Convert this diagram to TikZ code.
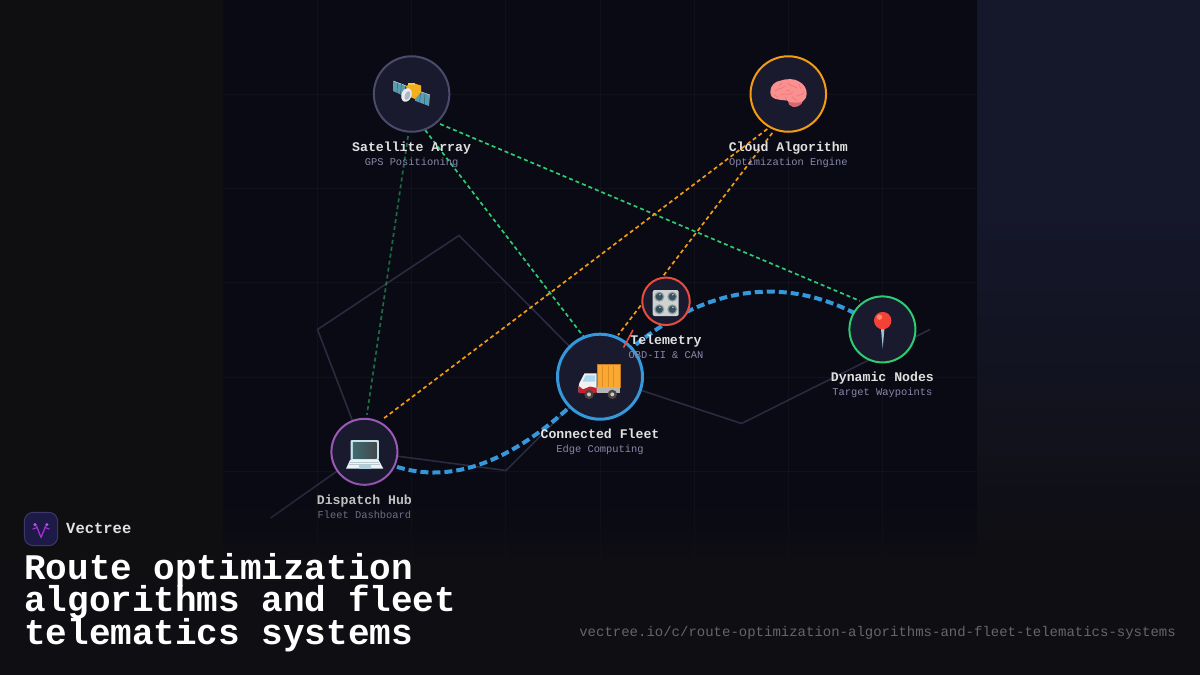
\documentclass[tikz,border=0pt]{standalone}
\usepackage{fontspec}
\setmainfont{Liberation Mono}
\usetikzlibrary{calc}
\newcommand{\tightlines}{\lineskiplimit=-100pt\relax}
\definecolor{bgside}{HTML}{0F0F12}
\definecolor{bgmid}{HTML}{0A0A15}
\definecolor{bgright}{HTML}{15172B}
\definecolor{bgbot}{HTML}{0F0F13}
\definecolor{nodefill}{HTML}{1A1A2E}
\definecolor{routecol}{HTML}{2A2A40}
\definecolor{cblue}{HTML}{3498DB}
\definecolor{corange}{HTML}{F39C12}
\definecolor{cgreen}{HTML}{2ECC71}
\definecolor{cred}{HTML}{E74C3C}
\definecolor{cpurple}{HTML}{9B59B6}
\definecolor{cslate}{HTML}{4A4A6A}
\definecolor{labelcol}{HTML}{E0E0E0}
\definecolor{subcol}{HTML}{8888AA}
\newcommand{\mkc}[1]{\definecolor{h#1}{HTML}{#1}}
\mkc{5B9DB0}\mkc{D5E6EA}\mkc{2F5F70}\mkc{F2B01E}\mkc{F7C843}\mkc{E8ECEE}\mkc{AEB8BD}
\mkc{D4696E}\mkc{FA9090}\mkc{F07A7C}\mkc{CFD2D2}\mkc{8E9A9E}\mkc{36525E}\mkc{D5DDE0}
\mkc{F9A832}\mkc{C67A1E}\mkc{E08E22}\mkc{B5B5B5}\mkc{F2F2F2}\mkc{A9D8F2}\mkc{C8202F}
\mkc{4B4440}\mkc{CFC8C0}\mkc{9CC4D6}\mkc{F44336}\mkc{FF8A70}\mkc{C9E3EA}\mkc{3E6A70}
\mkc{45484C}\mkc{E9F4F7}\mkc{A9CFDF}\mkc{B9C9CF}\mkc{3C3868}\mkc{1E1A48}\mkc{A22FD2}
\mkc{C050E8}\mkc{666666}
\tikzset{
  circnode/.style={circle, fill=nodefill, line width=2pt, inner sep=0pt},
  title label/.style={anchor=base, inner sep=0pt, text=labelcol, font=\fontsize{13.2}{15}\selectfont\bfseries},
  sub label/.style={anchor=base, inner sep=0pt, text=subcol, font=\fontsize{10.4}{12}\selectfont},
  route/.style={draw=routecol, line width=1.6pt, line join=miter},
  link/.style={line width=1.7pt, dash pattern=on 4pt off 3pt},
  flow/.style={draw=cblue, line width=4pt, dash pattern=on 8pt off 4pt},
  gridline/.style={draw=white, draw opacity=0.03, line width=1pt},
}
\begin{document}
\begin{tikzpicture}[x=1pt,y=-1pt]
\useasboundingbox (0,0) rectangle (1200,675);
% background
\fill[bgside] (0,0) rectangle (1200,675);
\fill[bgmid] (223,0) rectangle (977,675);
\fill[bgright] (977,0) rectangle (1200,200);
\shade[top color=bgright, bottom color=bgbot] (977,200) rectangle (1200,570);
% grid
\foreach \gx in {317.25,411.5,505.75,600,694.25,788.5,882.75}
  \draw[gridline] (\gx,0) -- (\gx,675);
\foreach \gy in {94.25,188.5,282.75,377,471.25,565.5}
  \draw[gridline] (223,\gy) -- (977,\gy);
% node centres
\coordinate (csat) at (411.6,94);
\coordinate (ccloud) at (788.3,94);
\coordinate (ctel) at (666,301.3);
\coordinate (cfleet) at (600,376.7);
\coordinate (cdyn) at (882.4,329.4);
\coordinate (chub) at (364.4,451.8);
% road shape
\coordinate (r0) at (270.5,518);
\coordinate (r1) at (317.5,329.5);
\coordinate (r2) at (459,235.5);
\coordinate (r3) at (741.5,423.5);
\coordinate (r4) at (930,329.5);
\coordinate (r5) at (506,470.5);
\draw[route] (r0) -- (chub) -- (r1) -- (r2) -- (cfleet) -- (r3) -- (r4);
\draw[route] (chub) -- (r5) -- (cfleet);
% dashed links
\draw[link, draw=cgreen, draw opacity=0.5] ($(csat)+(-3.5,42)$) -- ($(chub)+(2.5,-37)$);
\draw[link, draw=cgreen] ($(csat)+(13.5,36)$) -- ($(cfleet)+(-16,-39.5)$);
\draw[link, draw=cgreen] ($(csat)+(28.5,30)$) -- ($(cdyn)+(-22.5,-28.5)$);
\draw[link, draw=corange] ($(ccloud)+(-21,35)$) -- ($(chub)+(17.5,-32)$);
\draw[link, draw=corange] ($(ccloud)+(-16,39)$) -- ($(cfleet)+(18,-41.5)$);
% flow
\coordinate (q1) at (470,517);
\coordinate (q2) at (741,235);
\draw[flow] (chub) .. controls ($(chub)!0.667!(q1)$) and ($(cfleet)!0.667!(q1)$) .. (cfleet);
\draw[flow] (cfleet) .. controls ($(cfleet)!0.667!(q2)$) and ($(cdyn)!0.667!(q2)$) .. (cdyn);
% nodes
\node[circnode, draw=cslate, minimum size=75.5pt] (sat) at (csat) {};
\node[circnode, draw=corange, minimum size=75.5pt] (cloud) at (ccloud) {};
\node[circnode, draw=cred, minimum size=47.5pt] (tel) at (ctel) {};
\node[circnode, draw=cblue, line width=3pt, minimum size=85pt] (fleet) at (cfleet) {};
\node[circnode, draw=cgreen, minimum size=66pt] (dyn) at (cdyn) {};
\node[circnode, draw=cpurple, minimum size=66pt] (hub) at (chub) {};
% red tick
\coordinate (ta) at (623.5,347.5);
\coordinate (tb) at (633,330);
\draw[cred, line width=1.6pt] (ta) -- (tb);
% satellite icon
\fill[h5B9DB0] (393.3,81) -- (405.7,85.7) -- (404,96) -- (393,91) -- cycle;
\fill[h5B9DB0] (415.7,90) -- (430,95) -- (429,106) -- (415,100.7) -- cycle;
\draw[hD5E6EA, line width=.5pt] (393.3,81) -- (405.7,85.7) (415.7,90) -- (430,95);
\draw[h2F5F70, line width=.5pt] (397.5,82.7) -- (397,92.8) (401.5,84.2) -- (400.5,94.4) (420.5,91.8) -- (419.7,102.3) (425,93.4) -- (424.3,104.2);
\fill[hF2B01E] (406,86) -- (413,83) -- (421,85.5) -- (421,92) -- (415,99) -- (408,96) -- cycle;
\fill[hF7C843] (408,82.5) rectangle (415,85);
\fill[hE8ECEE, rotate around={-20:(406.5,95)}] (406.5,95) ellipse (5 and 7);
\fill[hAEB8BD, rotate around={-20:(407.5,95.5)}] (407.5,95.5) ellipse (2.6 and 4.6);
% brain icon
\fill[hD4696E] (788,100) .. controls (792,99) and (802,99) .. (803,101) .. controls (802,105) and (797,107.5) .. (793,107) .. controls (790,106.5) and (788,104) .. (788,100) -- cycle;
\fill[hFA9090] (770.3,92) .. controls (770,86) and (775,81) .. (781,80.5) .. controls (786,78.5) and (795,78.5) .. (799,81.5) .. controls (804,84) and (807,89) .. (806.7,94) .. controls (806.5,99) and (803,102.5) .. (798,102.5) .. controls (794,102.5) and (790,103) .. (787,100.5) .. controls (783,100) and (775,100) .. (772,97) .. controls (771,96) and (770.3,94) .. (770.3,92) -- cycle;
\draw[hF07A7C, line width=.8pt, line cap=round] (775,91) .. controls (779,87) and (782,90) .. (785,86) (780,95) .. controls (785,92) and (789,97) .. (793,92) (788,83) .. controls (790,87) and (794,85) .. (797,88) (796,96) .. controls (799,94) and (802,96) .. (804,92) (782,83) -- (779,86) (786,90) -- (790,91) (799,84) -- (801,89) (774,95) -- (778,97) (785,97) -- (787,100) (792,97) -- (797,101);
% knobs icon
\fill[hCFD2D2, rounded corners=2pt] (652.7,290) rectangle (678.7,316);
\foreach \kx/\ky in {659.3/296.7,672.3/296.7,659.3/309.3,672.3/309.3}{
  \fill[h8E9A9E] (\kx,\ky) circle (5);
  \fill[h36525E] (\kx,\ky) circle (3.6);
  \fill[hD5DDE0] (\kx+.6,\ky-2) circle (.8);
}
% truck icon
\fill[hF9A832, draw=hC67A1E, line width=.8pt] (597.3,364.7) rectangle (620,387.3);
\draw[hE08E22, line width=.9pt] (602.5,365.5) -- (602.5,387) (608,365.5) -- (608,387) (613.8,365.5) -- (613.8,387);
\fill[hB5B5B5] (596.7,387.3) rectangle (620.3,392.8);
\fill[hF2F2F2] (578.7,386) -- (579.3,383.3) -- (584.5,373.3) -- (596.7,373.3) -- (596.7,392) -- (578.7,392) -- cycle;
\fill[hA9D8F2] (585.7,375.3) -- (595,375.3) -- (595,381.7) -- (582.5,381.7) -- cycle;
\fill[hC8202F] (578.7,386) -- (583,389.3) -- (590,386.5) -- (596.7,388) -- (596.7,393) -- (578.7,393) -- cycle;
\foreach \wx in {589,612.3}{
  \fill[h4B4440] (\wx,394.4) circle (4.7);
  \fill[hCFC8C0] (\wx,394.4) circle (2);
}
% pin icon
\fill[h9CC4D6] (881,329) -- (884.4,329) -- (882.7,348.5) -- cycle;
\fill[hF44336] (882.7,320.6) circle (8.7);
\fill[hFF8A70] (879.5,317.2) circle (2.6);
% laptop icon
\fill[hC9E3EA, rounded corners=1pt] (350.7,440) rectangle (378.8,460);
\shade[left color=h3E6A70, right color=h45484C] (352.9,442.3) rectangle (376.6,458.2);
\fill[hE9F4F7] (350.3,459.5) -- (378.4,459.5) -- (383.3,468.7) -- (346,468.7) -- cycle;
\fill[hA9CFDF] (358.5,465) rectangle (370.5,468.7);
\draw[hB9C9CF, line width=.6pt] (350,462) -- (379,462) (349,464) -- (380,464);
% labels
\node[title label] (lsat) at (411.6,151.8) {Satellite Array};
\node[sub label] (ssat) at (411.6,165) {GPS Positioning};
\node[title label] (lcloud) at (788.3,151.8) {Cloud Algorithm};
\node[sub label] (scloud) at (788.3,165) {Optimization Engine};
\node[title label] (ltel) at (666,344.8) {Telemetry};
\node[sub label] (stel) at (666,358) {OBD-II \& CAN};
\node[title label] (lfleet) at (600,438) {Connected Fleet};
\node[sub label] (sfleet) at (600,452) {Edge Computing};
\node[title label] (ldyn) at (882.4,381.7) {Dynamic Nodes};
\node[sub label] (sdyn) at (882.4,395) {Target Waypoints};
\node[title label] (lhub) at (364.4,504.3) {Dispatch Hub};
\node[sub label] (shub) at (364.4,518.5) {Fleet Dashboard};
% bottom overlay, in pixel-aligned strips
\foreach \yy in {470,472,...,568}{
  \pgfmathsetmacro{\cov}{\yy<520 ? 0.25*(\yy-470)/50 : 0.25+0.75*(\yy-520)/50}
  \fill[bgbot, fill opacity=\cov] (0,\yy) rectangle (1200,\yy+2);
}
\fill[bgbot] (0,570) rectangle (1200,675);
% brand
\node[draw=h3C3868, fill=h1E1A48, line width=1pt, rounded corners=9pt, minimum size=33.4pt, inner sep=0pt] (logo) at (41,529) {};
\draw[hA22FD2, line width=1.3pt, line cap=round, line join=round] (36.5,526) -- (41,537.5) -- (45.7,526);
\draw[hA22FD2, line width=1.1pt, line cap=round] (32.8,529) -- (37.3,527.5) (49.2,529) -- (44.9,527.5);
\fill[hC050E8] (35,524.6) circle (1.7) (46.9,524.6) circle (1.7);
\node[anchor=base west, inner sep=0pt, text=labelcol, font=\fontsize{15.5}{18}\selectfont\bfseries] (brand) at (66,533.5) {Vectree};
\node[anchor=north west, inner sep=0pt, text=white, align=left, font=\fontsize{36}{32.4}\selectfont\bfseries\tightlines] (ttl) at (24,553) {Route optimization\\algorithms and fleet\\telematics systems};
\node[anchor=base east, inner sep=0pt, text=h666666, font=\fontsize{14}{16}\selectfont] (url) at (1176,636.5) {vectree.io/c/route-optimization-algorithms-and-fleet-telematics-systems};
\end{tikzpicture}
\end{document}
